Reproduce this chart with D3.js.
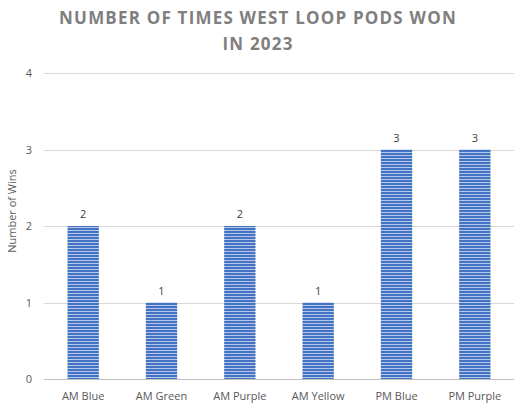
<!DOCTYPE html>
<html>
<head>
<meta charset="utf-8">
<script src="https://cdn.jsdelivr.net/npm/d3@7"></script>
<style>
  body { margin: 0; background: #fff; }
  svg { display: block; font-family: "Open Sans", "Liberation Sans", sans-serif; }
</style>
</head>
<body>
<div id="chart"></div>
<script>
// datos del grafico
var categories = ["AM Blue", "AM Green", "AM Purple", "AM Yellow", "PM Blue", "PM Purple"];
var wins = [2, 1, 2, 1, 3, 3];
var yTicks = [0, 1, 2, 3, 4];
var titleLines = ["NUMBER OF TIMES WEST LOOP PODS WON", "IN 2023"];

var width = 516, height = 409;
var margin = {top: 73, right: 2, bottom: 30, left: 44};

var svg = d3.select("#chart").append("svg")
    .attr("width", width)
    .attr("height", height);

// patron de rayas horizontales
var pat = svg.append("defs").append("pattern")
    .attr("id", "stripes")
    .attr("patternUnits", "userSpaceOnUse")
    .attr("width", 6)
    .attr("height", 3);
pat.append("rect").attr("width", 6).attr("height", 3).attr("fill", "#b4c7e7");
pat.append("rect").attr("width", 6).attr("height", 2).attr("fill", "#4472c4");

var x = d3.scaleBand()
    .domain(categories)
    .range([margin.left, width - margin.right])
    .paddingInner(0.6)
    .paddingOuter(0.3);

var y = d3.scaleLinear()
    .domain([0, 4])
    .range([height - margin.bottom, margin.top]);

// titulo
svg.append("text")
    .attr("text-anchor", "middle")
    .attr("fill", "#7f7f7f")
    .style("font-size", "17px")
    .style("font-weight", "bold")
    .style("letter-spacing", "1.2px")
    .selectAll("tspan")
    .data(titleLines)
    .enter().append("tspan")
    .attr("x", width / 2)
    .attr("y", function (d, i) { return 24 + i * 26; })
    .text(function (d) { return d; });

// lineas de grilla
svg.append("g")
    .selectAll("line")
    .data(yTicks)
    .enter().append("line")
    .attr("x1", margin.left)
    .attr("x2", width - margin.right)
    .attr("y1", function (d) { return Math.round(y(d)) + 0.5; })
    .attr("y2", function (d) { return Math.round(y(d)) + 0.5; })
    .attr("stroke", function (d) { return d === 0 ? "#bfbfbf" : "#d9d9d9"; })
    .attr("stroke-width", 1);

// eje y
var yAxis = svg.append("g")
    .attr("transform", "translate(" + (margin.left - 12) + ",0)")
    .call(d3.axisLeft(y).tickValues(yTicks).tickSize(0).tickPadding(0).tickFormat(d3.format("d")));
yAxis.select(".domain").remove();
yAxis.selectAll("text")
    .attr("fill", "#595959")
    .style("font-size", "11px")
    .style("font-family", "\"Open Sans\", sans-serif");

// eje x
var xAxis = svg.append("g")
    .attr("transform", "translate(0," + y(0) + ")")
    .call(d3.axisBottom(x).tickSize(0).tickPadding(13));
xAxis.select(".domain").remove();
xAxis.selectAll("text")
    .attr("fill", "#595959")
    .style("font-size", "11px")
    .style("font-family", "\"Open Sans\", sans-serif");

// titulo del eje y
svg.append("text")
    .attr("transform", "translate(16," + 211 + ") rotate(-90)")
    .attr("text-anchor", "middle")
    .attr("fill", "#595959")
    .style("font-size", "11px")
    .text("Number of Wins");

// barras
svg.append("g")
    .selectAll("rect")
    .data(wins)
    .enter().append("rect")
    .attr("x", function (d, i) { return x(categories[i]); })
    .attr("y", function (d) { return y(d); })
    .attr("width", x.bandwidth())
    .attr("height", function (d) { return y(0) - y(d); })
    .attr("fill", "url(#stripes)");

// etiquetas de datos
svg.append("g")
    .selectAll("text")
    .data(wins)
    .enter().append("text")
    .attr("x", function (d, i) { return x(categories[i]) + x.bandwidth() / 2; })
    .attr("y", function (d) { return y(d) - 8; })
    .attr("text-anchor", "middle")
    .attr("fill", "#404040")
    .style("font-size", "11px")
    .text(function (d) { return d; });
</script>
</body>
</html>
